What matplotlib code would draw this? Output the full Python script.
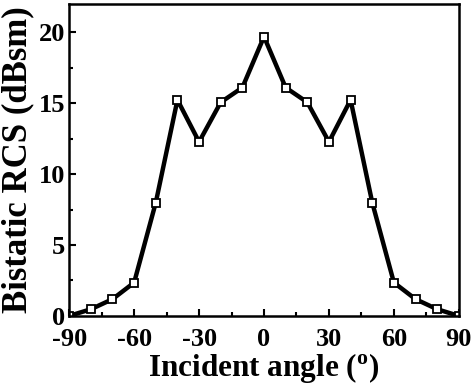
import matplotlib
matplotlib.use("Agg")
import matplotlib.pyplot as plt
from matplotlib.ticker import MultipleLocator

angles = [-90, -80, -70, -60, -50, -40, -30, -20, -10, 0,
          10, 20, 30, 40, 50, 60, 70, 80, 90]
rcs = [0.0, 0.47, 1.18, 2.35, 7.99, 15.23, 12.27, 15.06, 16.1, 19.69,
       16.1, 15.06, 12.27, 15.23, 7.99, 2.35, 1.18, 0.47, 0.0]

plt.rcParams['font.family'] = 'Liberation Serif'
plt.rcParams['font.weight'] = 'bold'
plt.rcParams['axes.unicode_minus'] = False
plt.rcParams['mathtext.fontset'] = 'custom'
plt.rcParams['mathtext.rm'] = 'Liberation Serif'
plt.rcParams['mathtext.bf'] = 'Liberation Serif:bold'

fig = plt.figure(figsize=(4.74, 3.9), dpi=100)
ax = fig.add_axes([0.146, 0.19, 0.822, 0.80])

ax.plot(angles, rcs, color='black', lw=3.2, marker='s', ms=6,
        mfc='white', mec='black', mew=1.3, clip_on=True)

ax.set_xlim(-90, 90)
ax.set_ylim(0, 22)
ax.xaxis.set_major_locator(MultipleLocator(30))
ax.xaxis.set_minor_locator(MultipleLocator(15))
ax.yaxis.set_major_locator(MultipleLocator(5))
ax.yaxis.set_minor_locator(MultipleLocator(2.5))
ax.tick_params(which='major', direction='in', length=5, width=1.5,
               labelsize=19)
ax.tick_params(axis='x', which='major', pad=9)
ax.tick_params(axis='y', which='major', pad=3)
ax.tick_params(which='minor', direction='in', length=3, width=1.5)
for s in ax.spines.values():
    s.set_linewidth(1.8)

ax.set_xlabel('Incident angle ($^{\\rm o}$)', fontsize=22.5, fontweight='bold', labelpad=0)
ax.set_ylabel('Bistatic RCS (dBsm)', fontsize=25, fontweight='bold', labelpad=3)

fig.savefig('out.png', dpi=100)
